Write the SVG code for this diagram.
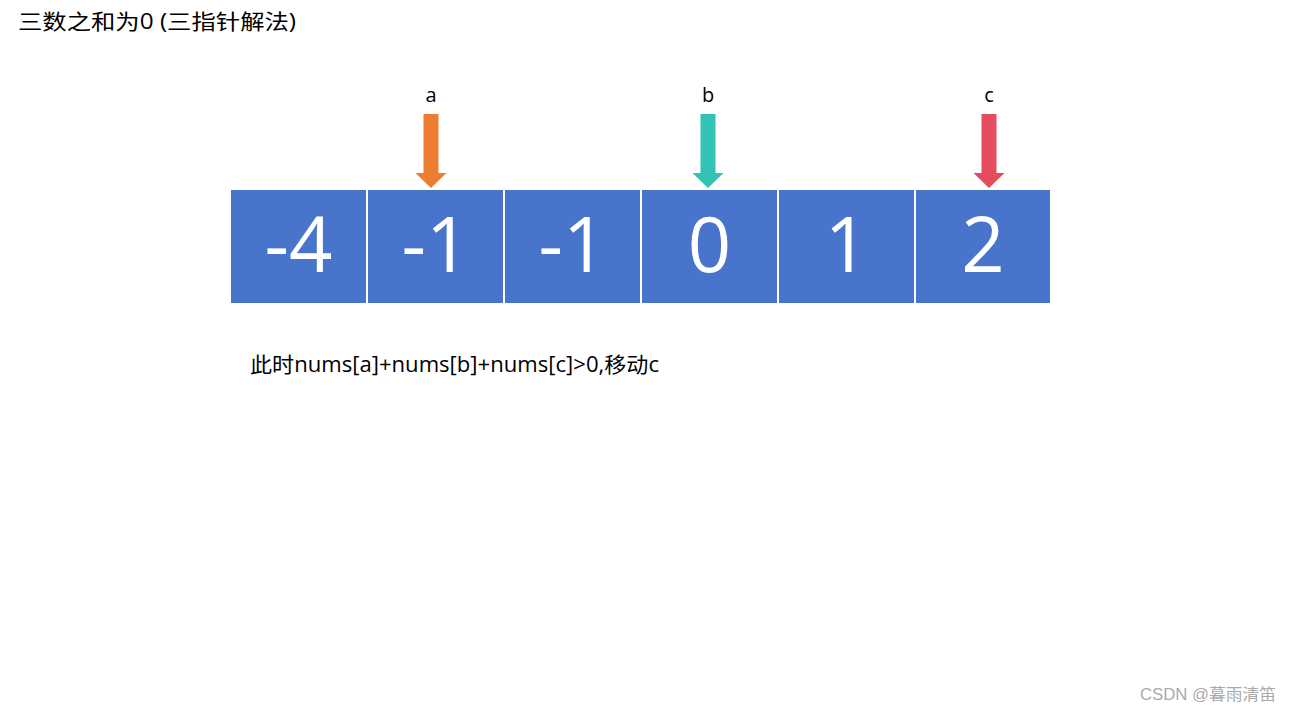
<svg xmlns="http://www.w3.org/2000/svg" width="1291" height="712" viewBox="0 0 1291 712">
<style>
.cell{fill:#4874CB}
.num{font-family:"Open Sans","Liberation Sans",sans-serif;font-size:76px;fill:#fff;text-anchor:middle}
.lbl{font-family:"Open Sans","Liberation Sans",sans-serif;font-size:20px;fill:#000;text-anchor:middle}
.txt{font-family:"Open Sans","Noto Sans CJK SC",sans-serif;font-size:21px;fill:#000}
</style>
<rect width="1291" height="712" fill="#fff"/>
<text class="txt" x="18" y="29" textLength="278" lengthAdjust="spacingAndGlyphs">三数之和为0 (三指针解法)</text>
<g id="cell0"><rect class="cell" x="231" y="190" width="135" height="113"/><text class="num" x="298.5" y="272">-4</text></g>
<g id="cell1"><rect class="cell" x="368" y="190" width="135" height="113"/><text class="num" x="435.5" y="272">-1</text></g>
<g id="cell2"><rect class="cell" x="505" y="190" width="135" height="113"/><text class="num" x="572.5" y="272">-1</text></g>
<g id="cell3"><rect class="cell" x="642" y="190" width="135" height="113"/><text class="num" x="709.5" y="272">0</text></g>
<g id="cell4"><rect class="cell" x="779" y="190" width="135" height="113"/><text class="num" x="846.5" y="272">1</text></g>
<g id="cell5"><rect class="cell" x="916" y="190" width="134" height="113"/><text class="num" x="983" y="272">2</text></g>
<g id="connectors">
<g id="arrow-a"><text class="lbl" x="431" y="102">a</text><polygon fill="#ED7D31" points="423.5,114 438.5,114 438.5,173 446.5,173 431,188 415.5,173 423.5,173"/></g>
<g id="arrow-b"><text class="lbl" x="708" y="102">b</text><polygon fill="#31C3B5" points="700.5,114 715.5,114 715.5,173 723.5,173 708,188 692.5,173 700.5,173"/></g>
<g id="arrow-c"><text class="lbl" x="989" y="102">c</text><polygon fill="#E54C5E" points="981.5,114 996.5,114 996.5,173 1004.5,173 989,188 973.5,173 981.5,173"/></g>
</g>
<text class="txt" x="250" y="372" textLength="409" lengthAdjust="spacingAndGlyphs">此时nums[a]+nums[b]+nums[c]&gt;0,移动c</text>
<text x="1140" y="700" font-family="'Liberation Sans','Noto Sans CJK SC',sans-serif" font-size="16" fill="#aaaaaa" textLength="136" lengthAdjust="spacingAndGlyphs">CSDN @暮雨清笛</text>
</svg>
